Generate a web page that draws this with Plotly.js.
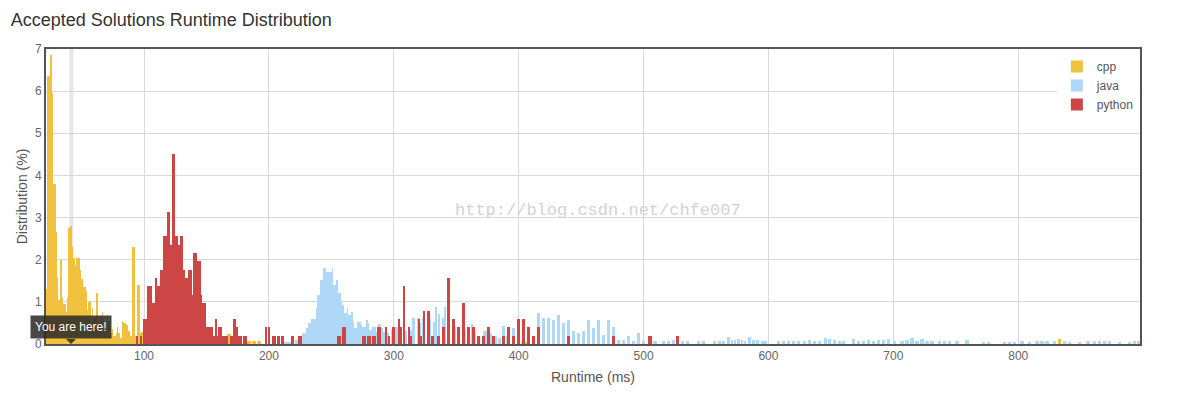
<!DOCTYPE html>
<html>
<head>
<meta charset="utf-8">
<script src="https://cdn.plot.ly/plotly-3.0.1.min.js"></script>
<style>
  body { margin: 0; background: #fff; }
  #chart { width: 1182px; height: 400px; }
</style>
</head>
<body>
<div id="chart"></div>
<script>
// runtime (ms) / share of accepted solutions (%)
const cppRuntime = [22,23,24,25,26,27,28,29,30,31,32,33,34,35,36,37,38,39,40,41,42,43,44,45,46,47,48,49,50,51,52,53,54,55,56,57,58,59,60,61,62,63,64,65,66,67,68,69,70,71,72,73,74,75,76,77,78,79,80,81,82,83,84,85,86,87,88,89,90,91,92,93,94,95,96,97,98,99,100,101,102,104,106,110,114,120,126,132,140,148,156,168,184,188,192,217,406,833];
const cppShare = [1.3,6.35,6.35,6.85,6.85,5.95,3.8,3.8,2.65,1.6,1.05,2.0,2.0,1.1,0.95,0.95,0.75,1.1,2.75,2.8,2.8,2.3,2.05,1.85,2.05,2.05,2.05,1.75,1.55,1.55,1.35,1.35,1.25,0.8,1.0,1.0,0.5,0.85,0.65,0.65,1.2,1.2,0.45,0.65,0.65,0.75,0.35,0.35,0.35,0.7,0.55,0.55,0.25,0.35,0.2,0.2,0.25,0.4,0.25,0.15,0.15,0.55,0.5,0.5,0.45,0.45,0.3,0.2,0.2,2.3,2.3,0.2,0.2,1.4,1.4,0.25,0.28,0.28,0.25,0.2,0.2,0.15,0.15,0.1,0.1,0.1,0.1,0.1,0.1,0.1,0.1,0.23,0.06,0.06,0.06,0.05,0.05,0.11];

const javaRuntime = [212,213,214,215,216,217,219,221,222,223,225,227,228,229,230,231,232,233,234,235,236,237,238,239,240,241,242,243,244,245,246,247,248,249,250,251,252,253,254,255,256,257,258,259,260,261,262,263,264,265,266,267,268,269,270,271,272,273,274,275,276,277,278,279,280,281,282,283,284,285,286,287,288,289,290,291,292,293,294,295,296,
  299,302,305,308,310,313,316,319,321,324,327,329,332,334,336,339,341,344,347,349,352,355,357,360,363,365,368,373,377,381,385,388,391,396,403,412,416,420,424,428,432,436,440,444,448,452,456,460,464,468,472,476,480,484,488,492,496,500,505,509,516,520,524,531,535,544,548,557,561,564,568,571,573,576,579,581,585,588,591,595,598,608,612,616,620,624,629,633,637,641,646,649,653,657,660,668,672,676,680,684,688,692,696,701,707,711,715,719,723,727,731,737,741,745,751,759,772,776,789,793,797,803,809,815,819,823,829,837,841,849,856,861,865,869,873,881,889,893,896];
const javaShare = [0.05,0.05,0.05,0.05,0.05,0.05,0.08,0.1,0.1,0.1,0.15,0.25,0.25,0.25,0.37,0.37,0.5,0.5,0.6,0.6,0.6,0.6,0.85,1.17,1.17,1.53,1.53,1.53,1.8,1.8,1.72,1.72,1.72,1.72,1.72,1.8,1.4,1.4,1.53,1.53,1.22,1.22,1.0,0.93,0.93,0.73,0.73,0.85,0.69,0.69,0.77,0.77,0.53,0.37,0.37,0.53,0.53,0.53,0.45,0.41,0.41,0.41,0.56,0.56,0.5,0.33,0.33,0.4,0.4,0.4,0.29,0.29,0.48,0.48,0.37,0.37,0.29,0.29,0.25,0.25,0.25,
  0.33,0.41,0.41,0.33,0.3,0.33,0.61,0.61,0.49,0.61,0.53,0.61,0.53,0.87,0.71,0.61,0.87,0.61,0.45,0.41,0.37,0.45,0.33,0.37,0.48,0.29,0.2,0.31,0.25,0.19,0.14,0.43,0.19,0.37,0.07,0.14,0.73,0.61,0.61,0.57,0.68,0.51,0.57,0.31,0.27,0.31,0.57,0.37,0.57,0.21,0.57,0.41,0.1,0.1,0.19,0.06,0.27,0.06,0.19,0.06,0.08,0.06,0.1,0.06,0.06,0.06,0.06,0.06,0.06,0.06,0.16,0.1,0.1,0.12,0.1,0.08,0.16,0.1,0.1,0.08,0.08,0.08,0.06,0.08,0.08,0.06,0.07,0.1,0.08,0.06,0.15,0.12,0.1,0.07,0.07,0.12,0.08,0.08,0.1,0.08,0.1,0.1,0.12,0.08,0.08,0.1,0.14,0.08,0.12,0.08,0.08,0.08,0.06,0.08,0.08,0.1,0.04,0.04,0.05,0.05,0.05,0.06,0.05,0.07,0.08,0.07,0.06,0.06,0.05,0.05,0.06,0.07,0.07,0.06,0.06,0.05,0.04,0.07,0.08];

const pythonRuntime = [94,95,97,98,100,101,102,103,104,105,106,107,108,109,110,111,112,113,114,115,116,117,118,119,120,121,122,123,124,125,126,127,128,129,130,131,132,133,134,135,136,137,138,139,140,141,142,143,144,145,146,147,148,149,150,151,152,153,154,155,156,157,158,159,160,161,162,163,164,165,166,167,169,170,171,172,173,174,175,176,177,178,180,181,182,
  198,200,204,208,211,219,225,256,260,276,280,284,288,294,296,300,304,306,308,312,314,320,322,324,328,331,336,340,344,348,352,356,360,364,368,372,376,380,388,392,396,400,404,408,412,416,440,476,505,527];
const pythonShare = [0.2,0.2,0.2,0.2,0.59,0.59,0.59,1.37,1.37,1.37,1.37,0.97,0.97,1.57,1.57,1.37,1.37,1.76,1.76,1.76,2.56,2.56,2.56,3.14,3.14,2.36,2.36,4.5,4.5,2.56,2.56,2.56,2.36,2.56,2.56,2.56,1.76,1.57,1.57,1.57,1.76,1.76,1.76,1.17,2.16,2.16,2.16,1.96,1.96,1.96,1.17,0.97,0.97,0.97,0.4,0.4,0.4,0.4,0.4,0.4,0.2,0.59,0.59,0.2,0.4,0.4,0.4,0.2,0.2,0.2,0.2,0.2,0.2,0.2,0.2,0.59,0.59,0.4,0.4,0.2,0.2,0.2,0.2,0.2,0.2,
  0.4,0.4,0.2,0.2,0.2,0.2,0.2,0.2,0.4,0.2,0.2,0.2,0.4,0.4,0.2,0.4,0.59,0.4,1.38,0.4,0.2,0.59,0.2,0.79,0.79,0.2,0.2,0.4,1.57,0.59,0.4,0.98,0.4,0.4,0.2,0.2,0.4,0.2,0.2,0.4,0.2,0.6,0.6,0.4,0.2,0.4,0.2,0.2,0.2,0.2];

const youAreHere = 41.5;

// bars one ms apart touch; lone ones are drawn a bit wider like the original
function barWidths(xs) {
  return xs.map((v, i) => {
    const prev = i > 0 ? v - xs[i - 1] : Infinity;
    const next = i < xs.length - 1 ? xs[i + 1] - v : Infinity;
    const gap = Math.min(prev, next);
    return gap <= 1 ? 1 : Math.min(2.7, gap * 0.8);
  });
}

function series(name, xs, ys, color) {
  return {
    type: "bar",
    name: name,
    x: xs,
    y: ys,
    width: barWidths(xs),
    marker: { color: color, line: { width: 0 } },
    hovertemplate: name + " %{x} ms: %{y}%<extra></extra>"
  };
}

const traces = [
  series("cpp", cppRuntime, cppShare, "#efc13f"),
  series("java", javaRuntime, javaShare, "#afd8f8"),
  series("python", pythonRuntime, pythonShare, "#cc4646")
];

const axisFont = { family: "Liberation Sans, Arial, sans-serif", size: 12, color: "#666" };

const layout = {
  width: 1182,
  height: 400,
  margin: { l: 46, r: 42, t: 49, b: 56 },
  paper_bgcolor: "#fff",
  plot_bgcolor: "#fff",
  barmode: "overlay",
  bargap: 0,
  font: { family: "Liberation Sans, Arial, sans-serif", color: "#555" },
  title: {
    text: "Accepted Solutions Runtime Distribution",
    font: { size: 18, color: "#333" },
    x: 0.009, xanchor: "left", xref: "container",
    y: 0.95, yanchor: "middle", yref: "container"
  },
  xaxis: {
    range: [21.5, 897.5],
    tickvals: [100, 200, 300, 400, 500, 600, 700, 800],
    tickfont: axisFont,
    gridcolor: "#d9d9d9",
    showline: true, linecolor: "#555", linewidth: 2, mirror: true,
    zeroline: false,
    title: { text: "Runtime (ms)", font: { size: 14, color: "#555" }, standoff: 10 }
  },
  yaxis: {
    range: [0, 7],
    dtick: 1,
    tickfont: axisFont,
    gridcolor: "#d9d9d9",
    showline: true, linecolor: "#555", linewidth: 2, mirror: true,
    zeroline: false,
    title: { text: "Distribution (%)", font: { size: 14, color: "#555" }, standoff: 4 }
  },
  legend: {
    x: 0.924, xanchor: "left",
    y: 0.99, yanchor: "top",
    bgcolor: "#fff",
    font: { size: 12, color: "#555" },
    itemwidth: 30,
    tracegroupgap: 0
  },
  shapes: [
    {
      type: "rect", layer: "below",
      xref: "x", yref: "paper",
      x0: youAreHere - 1.3, x1: youAreHere + 1.9, y0: 0, y1: 1,
      fillcolor: "#e6e6e6", line: { width: 0 }
    },
    {
      type: "path", layer: "above",
      xref: "x", yref: "y",
      xsizemode: "pixel", ysizemode: "pixel",
      xanchor: youAreHere, yanchor: 0,
      path: "M-5,5 L5,5 L0,0 Z",
      fillcolor: "rgba(40,40,40,0.85)", line: { width: 0 }
    }
  ],
  annotations: [
    {
      x: youAreHere, y: 0, xref: "x", yref: "y",
      xanchor: "center", yanchor: "bottom", yshift: 5,
      text: "You are here!",
      showarrow: false,
      bgcolor: "rgba(40,40,40,0.85)",
      borderpad: 4,
      font: { size: 12, color: "#fff" }
    },
    {
      x: 0.5045, y: 0.452, xref: "paper", yref: "paper",
      text: "http://blog.csdn.net/chfe007",
      showarrow: false,
      font: { family: "Liberation Mono, DejaVu Sans Mono, monospace", size: 17, color: "#d2d2d2" }
    }
  ]
};

Plotly.newPlot("chart", traces, layout, { displayModeBar: false, staticPlot: true });
</script>
</body>
</html>
